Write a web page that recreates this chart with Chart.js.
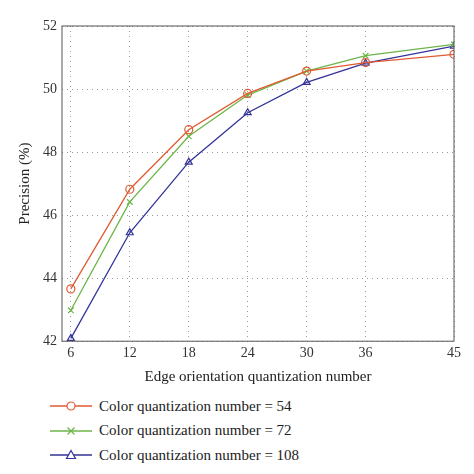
<!DOCTYPE html>
<html>
<head>
<meta charset="utf-8">
<script src="https://cdn.jsdelivr.net/npm/chart.js@4/dist/chart.umd.min.js"></script>
<style>
  body { margin: 0; background: #fff; font-family: "Liberation Serif", "DejaVu Serif", serif; }
  #wrap { width: 474px; height: 390px; position: relative; }
  #legend { margin: 4px 0 0 50px; font-size: 15px; color: #222; }
  .row { height: 24.5px; display: flex; align-items: center; }
  .row svg { margin-right: 7px; }
</style>
</head>
<body>
<div id="wrap"><canvas id="c"></canvas></div>
<div id="legend"></div>
<script>
// Edge orientation quantization numbers (x values)
var edgeNumbers = [6, 12, 18, 24, 30, 36, 45];
var yTicks = [42, 44, 46, 48, 50, 52];

// Precision (%) per colour quantization number
var prec54 = [43.66, 46.82, 48.71, 49.86, 50.57, 50.84, 51.10];
var prec72 = [42.98, 46.42, 48.50, 49.81, 50.57, 51.06, 51.42];
var prec108 = [42.09, 45.44, 47.68, 49.25, 50.21, 50.82, 51.36];

var seriesNames = ['Color quantization number = 54', 'Color quantization number = 72', 'Color quantization number = 108'];
var seriesColors = ['#e05a32', '#6cb548', '#33339a'];
var seriesMarkers = ['circle', 'crossRot', 'triangle'];
var seriesData = [prec54, prec72, prec108];

var FONT = '"Liberation Serif", "DejaVu Serif", serif';

function toPoints(vals) {
    var pts = [];
    for (var i = 0; i < vals.length; i++) pts.push({ x: edgeNumbers[i], y: vals[i] });
    return pts;
}

var datasets = [];
for (var s = 0; s < seriesData.length; s++) {
    datasets.push({
        label: seriesNames[s],
        data: toPoints(seriesData[s]),
        borderColor: seriesColors[s],
        backgroundColor: 'rgba(0,0,0,0)',
        pointStyle: seriesMarkers[s],
        pointRadius: 4,
        pointBorderWidth: 1.2,
        borderWidth: 1.3,
        tension: 0
    });
}

// Draw the solid frame around the plot area
var framePlugin = {
    id: 'frame',
    afterDraw: function(chart) {
        var a = chart.chartArea, ctx = chart.ctx;
        ctx.save();
        ctx.strokeStyle = '#555';
        ctx.lineWidth = 1;
        ctx.strokeRect(a.left, a.top, a.right - a.left, a.bottom - a.top);
        ctx.restore();
    }
};

new Chart(document.getElementById('c'), {
    type: 'line',
    data: { datasets: datasets },
    options: {
        responsive: true,
        maintainAspectRatio: false,
        animation: false,
        layout: { padding: { top: 26, right: 20, left: 12 } },
        plugins: { legend: { display: false }, tooltip: { enabled: false } },
        scales: {
            x: {
                type: 'linear', min: 5.1, max: 45,
                afterBuildTicks: function(axis) { axis.ticks = edgeNumbers.map(function(v) { return { value: v }; }); },
                grid: { color: '#999', drawTicks: false },
                border: { display: false, dash: [1, 4] },
                ticks: { color: '#333', font: { family: FONT, size: 14 }, padding: 4, autoSkip: false },
                title: { display: true, text: 'Edge orientation quantization number', color: '#222', font: { family: FONT, size: 15 }, padding: { top: 2 } }
            },
            y: {
                min: 42, max: 52,
                afterBuildTicks: function(axis) { axis.ticks = yTicks.map(function(v) { return { value: v }; }); },
                grid: { color: '#999', drawTicks: false },
                border: { display: false, dash: [1, 4] },
                ticks: { color: '#333', font: { family: FONT, size: 14 }, padding: 5 },
                title: { display: true, text: 'Precision (%)', color: '#222', font: { family: FONT, size: 15 }, padding: { bottom: 4 } }
            }
        }
    },
    plugins: [framePlugin]
});

// Legend below the chart: line with marker, then label
var markerSvg = {
    circle: '<circle cx="21" cy="7" r="4" fill="#fff" stroke="COL" stroke-width="1.2"/>',
    crossRot: '<path d="M17.5 3.5 L24.5 10.5 M24.5 3.5 L17.5 10.5" stroke="COL" stroke-width="1.2"/>',
    triangle: '<path d="M21 2.5 L25.5 10.5 L16.5 10.5 Z" fill="#fff" stroke="COL" stroke-width="1.2"/>'
};
var legend = document.getElementById('legend');
for (var k = 0; k < seriesNames.length; k++) {
    var col = seriesColors[k];
    var row = document.createElement('div');
    row.className = 'row';
    row.innerHTML = '<svg width="42" height="14"><line x1="0" y1="7" x2="42" y2="7" stroke="' + col + '" stroke-width="1.3"/>' +
        markerSvg[seriesMarkers[k]].replace(/COL/g, col) + '</svg><span>' + seriesNames[k] + '</span>';
    legend.appendChild(row);
}
</script>
</body>
</html>
